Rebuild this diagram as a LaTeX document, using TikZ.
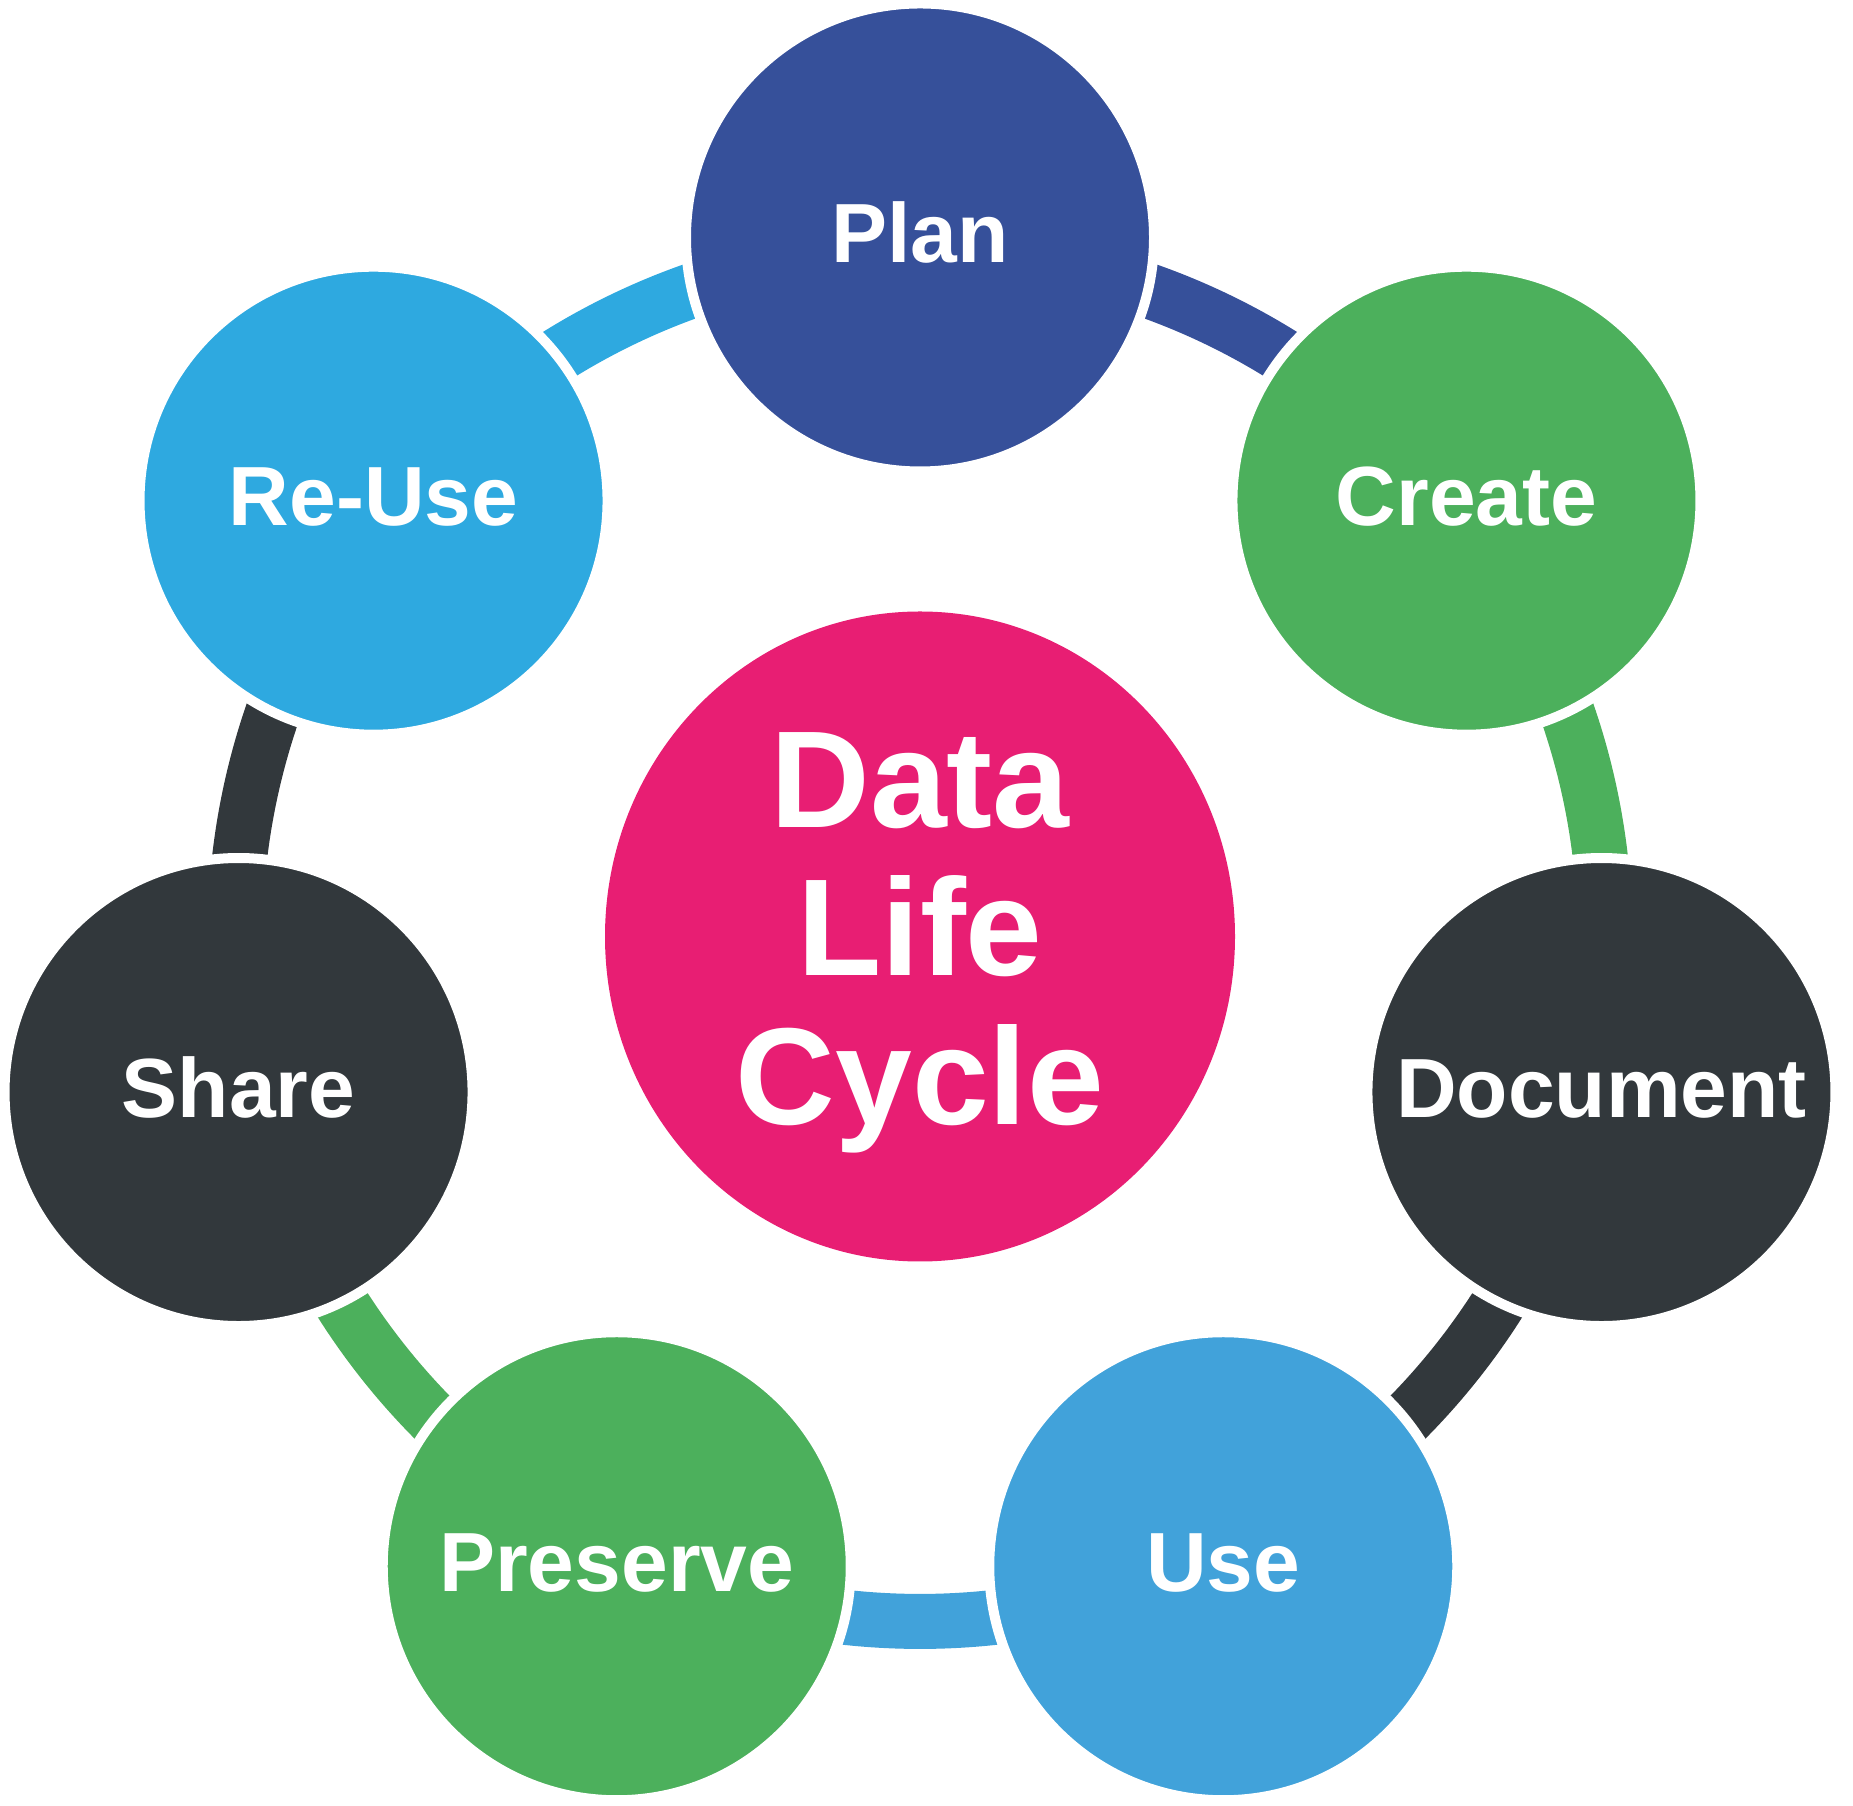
\documentclass[tikz,border=0pt]{standalone}
\usepackage{fontspec}
\setmainfont{Liberation Sans}
\usetikzlibrary{shapes.geometric,calc,backgrounds}
\definecolor{planblue}{RGB}{54,80,154}
\definecolor{lcgreen}{RGB}{76,176,92}
\definecolor{lcdark}{RGB}{50,56,60}
\definecolor{reuseblue}{RGB}{46,169,224}
\definecolor{useblue}{RGB}{65,162,218}
\definecolor{lcpink}{RGB}{232,30,115}
\begin{document}
\begin{tikzpicture}[x=1pt,y=1pt,
  sat/.style={circle, inner sep=0pt, minimum size=468pt, draw=white, line width=10pt,
    text=white, font=\fontsize{84pt}{100pt}\selectfont\bfseries,
    text height=60pt, text depth=10pt},
  band/.style={line width=55pt}]
\useasboundingbox (0,0) rectangle (1853,1805);
\coordinate (C) at (920,868.5);
% satellites
\node[sat, fill=planblue]  (plan)     at ($(C)+(90:699)$)       {Plan};
\node[sat, fill=lcgreen]   (create)   at ($(C)+(38.571:699)$)   {Create};
\node[sat, fill=lcdark]    (document) at ($(C)+(-12.857:699)$)  {Document};
\node[sat, fill=useblue]   (use)      at ($(C)+(-64.286:699)$)  {Use};
\node[sat, fill=lcgreen]   (preserve) at ($(C)+(-115.714:699)$) {Preserve};
\node[sat, fill=lcdark]    (share)    at ($(C)+(-167.143:699)$) {Share};
\node[sat, fill=reuseblue] (reuse)    at ($(C)+(141.429:699)$)  {Re-Use};
% centre
\node[ellipse, fill=lcpink, minimum width=630pt, minimum height=650pt, inner sep=0pt] (core) at (C) {};
\node[anchor=north, inner sep=0pt, align=center, text=white,
  font=\fontsize{138pt}{148.5pt}\selectfont\bfseries] (title) at (920,1073) {Data\\Life\\Cycle};
% connecting bands
\begin{scope}[on background layer]
\fill[white] (0,0) rectangle (1853,1805);
\draw[band, planblue]  ($(C)!0.979971!(plan.center)$)     arc[start angle=90,       end angle=38.571,   radius=685];
\draw[band, lcgreen]   ($(C)!0.979971!(create.center)$)   arc[start angle=38.571,   end angle=-12.857,  radius=685];
\draw[band, lcdark]    ($(C)!0.979971!(document.center)$) arc[start angle=-12.857,  end angle=-64.286,  radius=685];
\draw[band, useblue]   ($(C)!0.979971!(use.center)$)      arc[start angle=-64.286,  end angle=-115.714, radius=685];
\draw[band, lcgreen]   ($(C)!0.979971!(preserve.center)$) arc[start angle=-115.714, end angle=-167.143, radius=685];
\draw[band, lcdark]    ($(C)!0.979971!(share.center)$)    arc[start angle=-167.143, end angle=-218.571, radius=685];
\draw[band, reuseblue] ($(C)!0.979971!(reuse.center)$)    arc[start angle=141.429,  end angle=90,       radius=685];
\end{scope}
\end{tikzpicture}
\end{document}
